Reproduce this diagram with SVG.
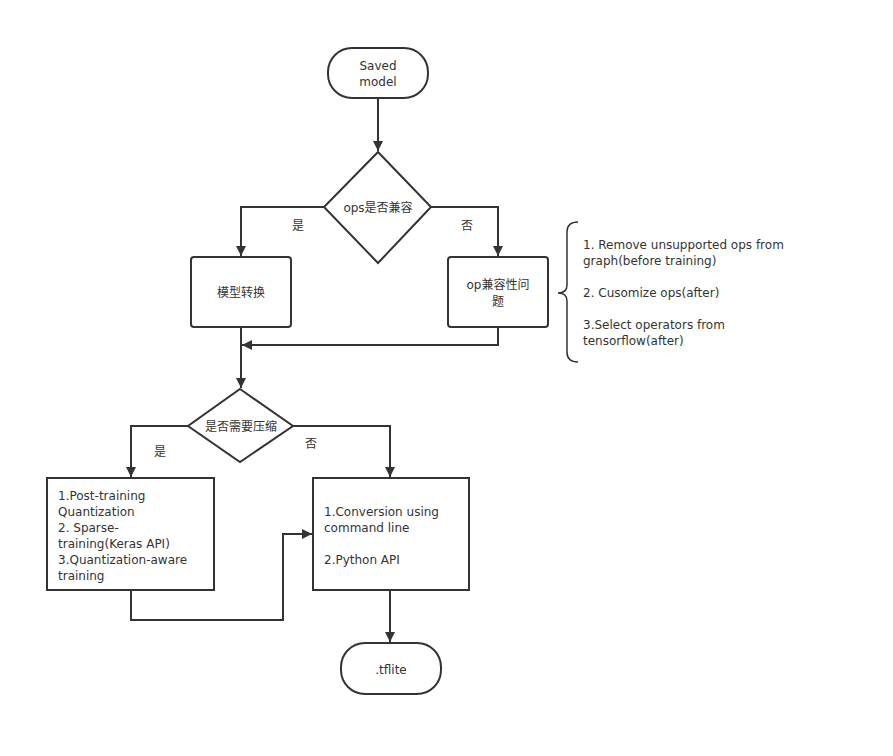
<svg xmlns="http://www.w3.org/2000/svg" width="893" height="756" viewBox="0 0 893 756">
<style>
.n{fill:#fff;stroke:#333;stroke-width:2}
.c{fill:none;stroke:#333;stroke-width:2}
text{font-family:"DejaVu Sans","Noto Sans CJK SC",sans-serif;font-size:12px;fill:#333}
.m{text-anchor:middle}
</style>
<defs>
<marker id="ah" viewBox="0 0 10 10" refX="10" refY="5" markerWidth="10" markerHeight="10" markerUnits="userSpaceOnUse" orient="auto">
<path d="M0,0 L10,5 L0,10 Z" fill="#333"/>
</marker>
</defs>
<rect width="893" height="756" fill="#fff"/>
<g id="connectors">
<path class="c" d="M378,98 V151" marker-end="url(#ah)"/>
<path class="c" d="M324,207 H241 V256" marker-end="url(#ah)"/>
<path class="c" d="M431,207 H498 V256" marker-end="url(#ah)"/>
<path class="c" d="M498,327 V345 H242" marker-end="url(#ah)"/>
<path class="c" d="M241,327 V388" marker-end="url(#ah)"/>
<path class="c" d="M188,426 H131 V477" marker-end="url(#ah)"/>
<path class="c" d="M293,426 H390 V477" marker-end="url(#ah)"/>
<path class="c" d="M131,590 V620 H283 V534 H312" marker-end="url(#ah)"/>
<path class="c" d="M390,590 V642" marker-end="url(#ah)"/>
<text x="298" y="230" class="m">是</text>
<text x="467" y="230" class="m">否</text>
<text x="160" y="456" class="m">是</text>
<text x="311" y="448" class="m">否</text>
</g>
<g id="saved">
<rect class="n" x="328" y="48" width="100" height="50" rx="24"/>
<text x="378" y="70" class="m">Saved</text>
<text x="378" y="86" class="m">model</text>
</g>
<g id="ops">
<polygon class="n" points="378,152 431,207 378,263 324,207"/>
<text x="378" y="212" class="m">ops是否兼容</text>
</g>
<g id="convert">
<rect class="n" x="191" y="257" width="100" height="70" rx="3"/>
<text x="241" y="297" class="m">模型转换</text>
</g>
<g id="opissue">
<rect class="n" x="448" y="257" width="100" height="70" rx="3"/>
<text x="498" y="289" class="m">op兼容性问</text>
<text x="498" y="306" class="m">题</text>
</g>
<g id="notes">
<path class="c" style="stroke-width:1.5" d="M578,222 Q567,222 567,232 V285 Q567,293 558,293 Q567,293 567,301 V352 Q567,362 578,362"/>
<text x="583" y="249">1. Remove unsupported ops from</text>
<text x="583" y="265">graph(before training)</text>
<text x="583" y="297">2. Cusomize ops(after)</text>
<text x="583" y="329">3.Select operators from</text>
<text x="583" y="345">tensorflow(after)</text>
</g>
<g id="compress">
<polygon class="n" points="240,389 293,426 240,462 188,426"/>
<text x="241" y="431" class="m">是否需要压缩</text>
</g>
<g id="quant">
<rect class="n" x="47" y="478" width="167" height="112"/>
<text x="58" y="500">1.Post-training</text>
<text x="58" y="516">Quantization</text>
<text x="58" y="532">2. Sparse-</text>
<text x="58" y="548">training(Keras API)</text>
<text x="58" y="564">3.Quantization-aware</text>
<text x="58" y="580">training</text>
</g>
<g id="conversion">
<rect class="n" x="313" y="478" width="156" height="112"/>
<text x="324" y="516">1.Conversion using</text>
<text x="324" y="532">command line</text>
<text x="324" y="564">2.Python API</text>
</g>
<g id="tflite">
<rect class="n" x="341" y="643" width="100" height="51" rx="24"/>
<text x="391" y="674" class="m">.tflite</text>
</g>
</svg>
